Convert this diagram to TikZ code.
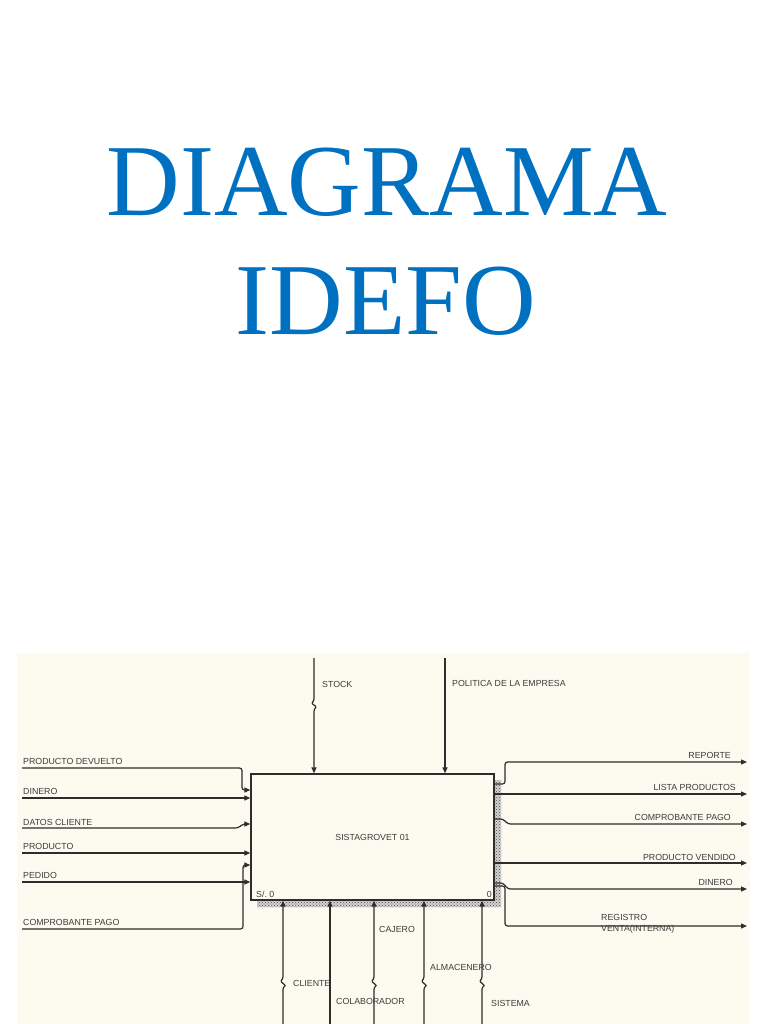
\documentclass[tikz,border=0pt]{standalone}
\usepackage{fontspec}
\setmainfont{Liberation Serif}
\newfontfamily\labfont{Liberation Sans}
\usetikzlibrary{arrows.meta,patterns}
\definecolor{titleblue}{RGB}{0,112,192}
\definecolor{cream}{RGB}{253,250,239}
\definecolor{ink}{RGB}{45,45,45}
\definecolor{labgray}{RGB}{60,60,60}
\tikzset{
  conn/.style={draw=ink, line width=1.2pt, rounded corners=2.5pt, -{Triangle[length=6pt,width=5pt]}},
  lab/.style={font=\labfont\fontsize{8.8}{9}\selectfont, text=labgray, inner sep=0pt},
  title/.style={font=\fontsize{102}{110}\selectfont, text=titleblue, inner sep=0pt}
}
\begin{document}
\begin{tikzpicture}[x=1pt,y=-1pt]
\useasboundingbox (0,0) rectangle (768,1024);
\fill[white] (0,0) rectangle (768,1024);
% title
\node[title, anchor=base] (t1) at (387,216) {DIAGRAMA};
\node[title, anchor=base] (t2) at (386,334) {IDEFO};
% diagram background
\fill[cream] (17,653) rectangle (750,1024);
% box shadow
\fill[gray!35] (494,780) -- (501,780) -- (501,907) -- (257,907) -- (257,900) -- (494,900) -- cycle;
\fill[pattern=crosshatch dots, pattern color=gray!60!black] (494,780) -- (501,780) -- (501,907) -- (257,907) -- (257,900) -- (494,900) -- cycle;
\node[draw=ink, line width=1.3pt, fill=cream, minimum width=243pt, minimum height=126pt, inner sep=0pt, lab] (box) at (372.5,837) {SISTAGROVET 01};
\node[lab, anchor=base west] (cost) at (256,897) {S/.\ 0};
\node[lab, anchor=base east] (val) at (492,897) {0};
% ---- controls (top)
\coordinate (stk) at (314,658);
\coordinate (pol) at (445,658);
\draw[conn] (stk) -- (314,701) .. controls (311,704) and (317,706) .. (314,709) -- (box.north -| stk);
\draw[conn] (pol) -- (box.north -| pol);
\node[lab, anchor=base west] (lstk) at (322,687) {STOCK};
\node[lab, anchor=base west] (lpol) at (452,686) {POLITICA DE LA EMPRESA};
% ---- inputs (left)
\coordinate (i1) at (22,768);
\coordinate (i2) at (22,798);
\coordinate (i3) at (22,828);
\coordinate (i4) at (22,853);
\coordinate (i5) at (22,882);
\coordinate (i6) at (22,929);
\draw[conn] (i1) -- (242,768) -- (242,790) -- (box.west |- 0,790);
\draw[conn] (i2) -- (box.west |- i2);
\draw[conn] (i3) -- (238,828) -- (243,824) -- (box.west |- 0,824);
\draw[conn] (i4) -- (box.west |- i4);
\draw[conn] (i5) -- (box.west |- i5);
\draw[conn] (i6) -- (243,929) -- (243,865) -- (box.west |- 0,865);
\node[lab, anchor=base west] (li1) at (23,764.5) {PRODUCTO DEVUELTO};
\node[lab, anchor=base west] (li2) at (23,794.5) {DINERO};
\node[lab, anchor=base west] (li3) at (23,825) {DATOS CLIENTE};
\node[lab, anchor=base west] (li4) at (23,849.5) {PRODUCTO};
\node[lab, anchor=base west] (li5) at (23,878.5) {PEDIDO};
\node[lab, anchor=base west] (li6) at (23,925.5) {COMPROBANTE PAGO};
% ---- outputs (right)
\coordinate (o1) at (747,762);
\coordinate (o2) at (747,794);
\coordinate (o3) at (747,824);
\coordinate (o4) at (747,863);
\coordinate (o5) at (747,889);
\coordinate (o6) at (747,926);
\draw[conn] (box.east |- 0,784) -- (505,784) -- (505,762) -- (o1);
\draw[conn] (box.east |- o2) -- (o2);
\draw[conn] (box.east |- 0,819) -- (503,819) -- (508,824) -- (o3);
\draw[conn] (box.east |- o4) -- (o4);
\draw[conn] (box.east |- 0,883) -- (503,883) -- (508,889) -- (o5);
\draw[conn] (box.east |- 0,886) -- (505,886) -- (505,926) -- (o6);
\node[lab, anchor=base east] (lo1) at (731,758) {REPORTE};
\node[lab, anchor=base east] (lo2) at (736,790.5) {LISTA PRODUCTOS};
\node[lab, anchor=base east] (lo3) at (731,820.5) {COMPROBANTE PAGO};
\node[lab, anchor=base east] (lo4) at (736,860) {PRODUCTO VENDIDO};
\node[lab, anchor=base east] (lo5) at (733,885.5) {DINERO};
\node[lab, anchor=base west] (lo6a) at (601,920.5) {REGISTRO};
\node[lab, anchor=base west] (lo6b) at (601,931.5) {VENTA(INTERNA)};
% ---- mechanisms (bottom)
\coordinate (m1) at (283,1026);
\coordinate (m2) at (330,1026);
\coordinate (m3) at (374,1026);
\coordinate (m4) at (424,1026);
\coordinate (m5) at (482,1026);
\draw[conn] (m1) -- (283,987) .. controls (286,985) and (280,982) .. (283,979) -- (box.south -| m1);
\draw[conn] (m2) -- (box.south -| m2);
\draw[conn] (m3) -- (374,987) .. controls (377,985) and (371,982) .. (374,979) -- (box.south -| m3);
\draw[conn] (m4) -- (424,987) .. controls (427,985) and (421,982) .. (424,979) -- (box.south -| m4);
\draw[conn] (m5) -- (482,987) .. controls (485,985) and (479,982) .. (482,979) -- (box.south -| m5);
\node[lab, anchor=base west] (lm1) at (293,986.5) {CLIENTE};
\node[lab, anchor=base west] (lm2) at (336,1004.5) {COLABORADOR};
\node[lab, anchor=base west] (lm3) at (379,932.5) {CAJERO};
\node[lab, anchor=base west] (lm4) at (430,970.5) {ALMACENERO};
\node[lab, anchor=base west] (lm5) at (491,1006.5) {SISTEMA};
\end{tikzpicture}
\end{document}
